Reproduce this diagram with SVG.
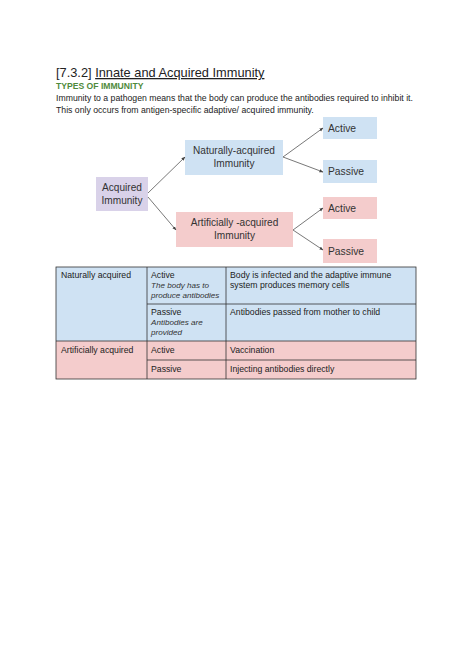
<svg xmlns="http://www.w3.org/2000/svg" width="474" height="669" viewBox="0 0 474 669">
<defs>
<style>
text{font-family:"Liberation Sans",Arial,sans-serif;fill:#222}
.title{font-size:12.8px}
.h{font-size:8.6px;font-weight:bold;fill:#4f8a3c}
.b{font-size:8.7px}
.n{font-size:10.1px;text-anchor:middle;fill:#333}
.leaf{font-size:10.3px;fill:#333}
.t{font-size:8.7px}
.ti{font-size:8.1px;font-style:italic;fill:#333}
.blue{fill:#cfe2f3}
.pink{fill:#f4cccc}
.purple{fill:#d9d2e9}
.conn line{stroke:#555;stroke-width:0.8;marker-end:url(#ah)}
.grid line{stroke:#333;stroke-width:0.8}
</style>
<marker id="ah" viewBox="0 0 10 10" refX="9" refY="5" markerWidth="5" markerHeight="5" orient="auto"><path d="M0,1 L10,5 L0,9 z" fill="#444"/></marker>
</defs>
<rect width="474" height="669" fill="#fff"/>
<g id="header">
<text class="title" x="56" y="77">[7.3.2] <tspan text-decoration="underline">Innate and Acquired Immunity</tspan></text>
<text class="h" x="56" y="89">TYPES OF IMMUNITY</text>
<text class="b" x="56" y="101">Immunity to a pathogen means that the body can produce the antibodies required to inhibit it.</text>
<text class="b" x="56" y="113">This only occurs from antigen-specific adaptive/ acquired immunity.</text>
</g>
<g id="acquired"><rect class="purple" x="96" y="177" width="52" height="34"/><text class="n" x="122" y="191">Acquired</text><text class="n" x="122" y="204">Immunity</text></g>
<g id="natural"><rect class="blue" x="185" y="140" width="98" height="35"/><text class="n" x="234" y="154">Naturally-acquired</text><text class="n" x="234" y="167">Immunity</text></g>
<g id="artificial"><rect class="pink" x="176" y="212" width="117" height="35"/><text class="n" x="234.5" y="226">Artificially -acquired</text><text class="n" x="234.5" y="239">Immunity</text></g>
<g id="nat-active"><rect class="blue" x="323" y="117" width="54" height="22"/><text class="leaf" x="328" y="132">Active</text></g>
<g id="nat-passive"><rect class="blue" x="323" y="160" width="54" height="23"/><text class="leaf" x="328" y="175">Passive</text></g>
<g id="art-active"><rect class="pink" x="323" y="197" width="54" height="22"/><text class="leaf" x="328" y="212">Active</text></g>
<g id="art-passive"><rect class="pink" x="323" y="239" width="54" height="24"/><text class="leaf" x="328" y="255">Passive</text></g>
<g class="conn" id="connectors">
<line x1="148" y1="193" x2="185" y2="157"/>
<line x1="148" y1="197" x2="176" y2="230"/>
<line x1="283" y1="157" x2="323" y2="128"/>
<line x1="283" y1="157" x2="323" y2="172"/>
<line x1="293" y1="230" x2="323" y2="208"/>
<line x1="293" y1="230" x2="323" y2="250"/>
</g>
<g id="table">
<rect class="blue" x="56" y="267" width="360" height="74"/>
<rect class="pink" x="56" y="341" width="360" height="38"/>
<g class="grid">
<rect x="56" y="267" width="360" height="112" fill="none" stroke="#333" stroke-width="0.8"/>
<line x1="147" y1="267" x2="147" y2="379"/>
<line x1="226" y1="267" x2="226" y2="379"/>
<line x1="147" y1="304" x2="416" y2="304"/>
<line x1="56" y1="341" x2="416" y2="341"/>
<line x1="147" y1="360" x2="416" y2="360"/>
</g>
<text class="t" x="61" y="278">Naturally acquired</text>
<text class="t" x="151" y="278">Active</text>
<text class="ti" x="151" y="288">The body has to</text>
<text class="ti" x="151" y="298">produce antibodies</text>
<text class="t" x="230" y="278">Body is infected and the adaptive immune</text>
<text class="t" x="230" y="288">system produces memory cells</text>
<text class="t" x="151" y="315">Passive</text>
<text class="ti" x="151" y="325">Antibodies are</text>
<text class="ti" x="151" y="335">provided</text>
<text class="t" x="230" y="315">Antibodies passed from mother to child</text>
<text class="t" x="61" y="353">Artificially acquired</text>
<text class="t" x="151" y="353">Active</text>
<text class="t" x="230" y="353">Vaccination</text>
<text class="t" x="151" y="372">Passive</text>
<text class="t" x="230" y="372">Injecting antibodies directly</text>
</g>
</svg>
